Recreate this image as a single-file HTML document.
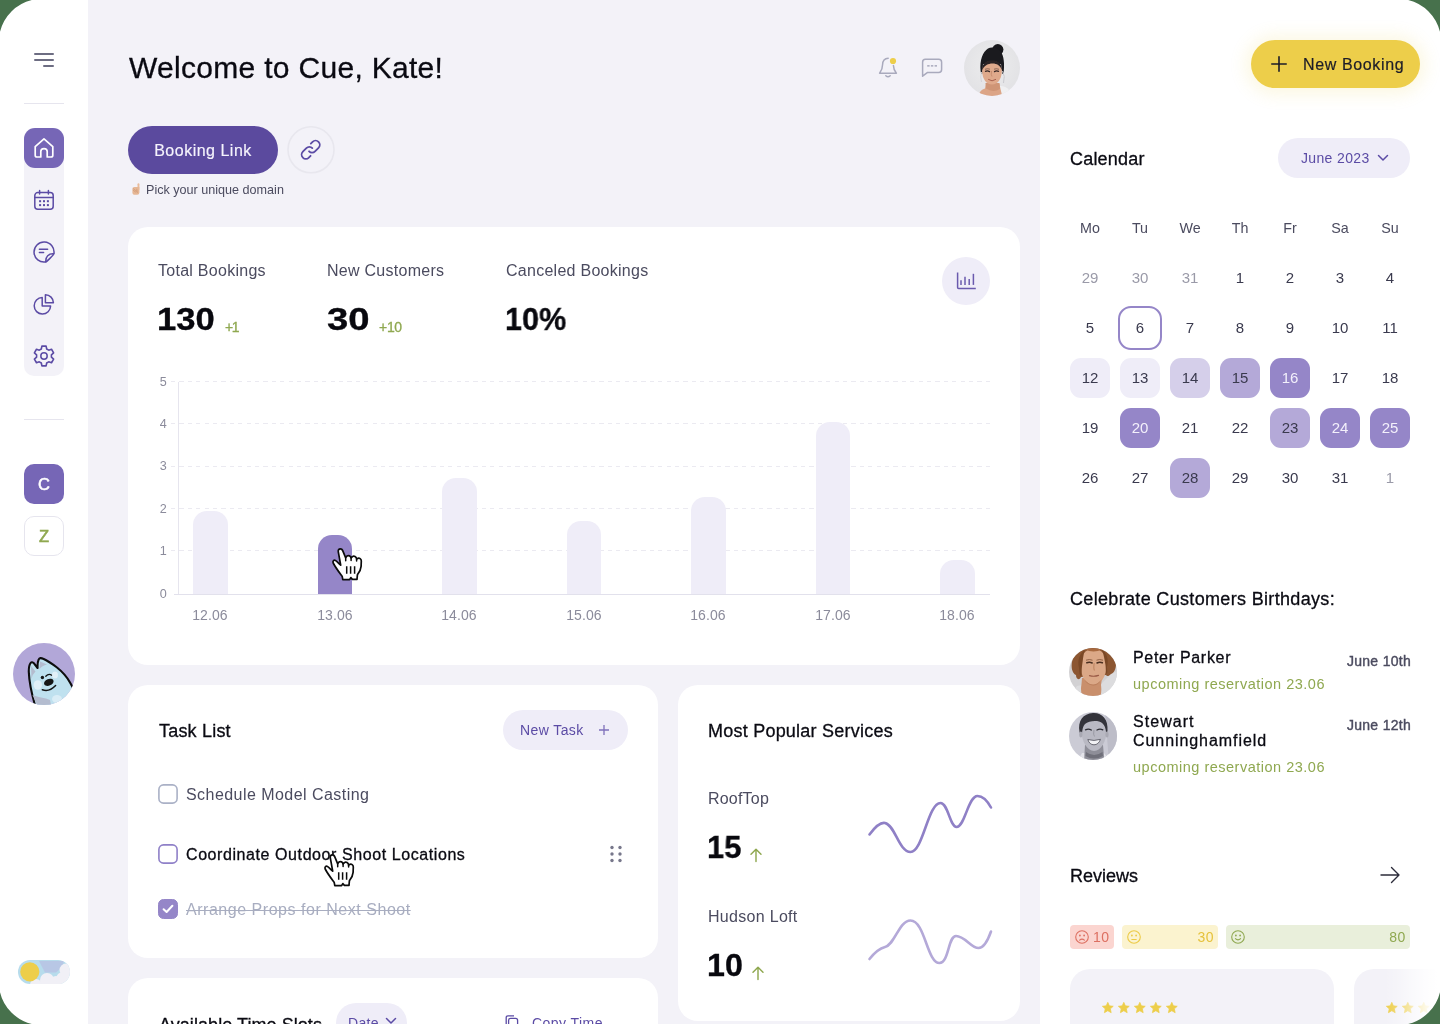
<!DOCTYPE html>
<html lang="en">
<head>
<meta charset="utf-8">
<title>Cue Dashboard</title>
<style>
*{box-sizing:border-box;margin:0;padding:0}
html,body{width:1440px;height:1024px;overflow:hidden}
body{background:#47714c;font-family:"Liberation Sans",sans-serif;color:#0c0c14;position:relative}
#app{position:absolute;left:0;top:0;width:1440px;height:1024px;overflow:hidden;background:#f3f2f8}
.abs{position:absolute}
.t{position:absolute;white-space:nowrap;will-change:transform}
.med{-webkit-text-stroke:0.3px currentColor}
.card{position:absolute;background:#fff;border-radius:20px}
svg{position:absolute;overflow:visible}
.ico{fill:none;stroke:#5b4ba5;stroke-width:1.5;stroke-linecap:round;stroke-linejoin:round}
.cal{will-change:transform;position:absolute;width:40px;height:40px;line-height:40px;text-align:center;font-size:15px;color:#3a3a4e;border-radius:11px}
.cal.g{color:#9a9aa8}
.cal.l1{background:#efedf8}
.cal.l2{background:#d5cfea}
.cal.l3{background:#b4a9d8}
.cal.l4{background:#9586c8;color:#f3f0fb}
.bar{position:absolute;width:34.5px;background:#efedf8;border-radius:14px 14px 0 0}
.grid{position:absolute;left:170.600px;width:819.400px;height:1px;background:repeating-linear-gradient(90deg,#ebeaf1 0 4.200px,transparent 4.200px 8.400px)}
.yl{will-change:transform;position:absolute;left:140px;width:26.800px;text-align:right;font-size:12.6px;color:#8b8b9b;line-height:16px}
.xl{will-change:transform;position:absolute;width:60px;text-align:center;font-size:14px;letter-spacing:.1px;color:#8b8b9b;line-height:18px;top:606.3px}
.cb{position:absolute;left:158px;width:20px;height:20px;border-radius:5.5px;border:1.5px solid #b3b8cc;background:#fff}
</style>
</head>
<body>
<div id="app">

<!-- ============ SIDEBAR ============ -->
<div class="abs" id="side" style="left:0;top:0;width:88px;height:1024px;background:#fff"></div>
<!-- hamburger -->
<div class="abs" style="left:34px;top:53.3px;width:20px;height:1.5px;background:#6d6d82;border-radius:1px"></div>
<div class="abs" style="left:34px;top:59.3px;width:20px;height:1.5px;background:#6d6d82;border-radius:1px"></div>
<div class="abs" style="left:43px;top:65.3px;width:11px;height:1.5px;background:#6d6d82;border-radius:1px"></div>
<div class="abs" style="left:24px;top:103px;width:40px;height:1px;background:#e6e5ee"></div>
<!-- nav pill -->
<div class="abs" style="left:24px;top:128px;width:40px;height:248px;background:#f3f2f8;border-radius:10px"></div>
<div class="abs" style="left:24px;top:128px;width:40px;height:40px;background:#7666b6;border-radius:11px"></div>
<!-- home -->
<svg style="left:32px;top:136px" width="24" height="24" viewBox="0 0 24 24"><path class="ico" style="stroke:#fff;stroke-width:1.7" d="M3.2 10.6 L12 2.8 L20.8 10.6 V19.2 Q20.8 21 19 21 H15.2 V15.6 Q15.2 12.6 12 12.6 Q8.8 12.6 8.8 15.6 V21 H5 Q3.2 21 3.2 19.2 Z"/></svg>
<!-- calendar -->
<svg style="left:32px;top:188px" width="24" height="24" viewBox="0 0 24 24"><rect class="ico" x="2.8" y="4.6" width="18.4" height="16.6" rx="3"/><path class="ico" d="M2.8 9.6H21.2M7.6 2.6V6M16.4 2.6V6"/><g fill="#5b4ba5"><rect x="7.1" y="12.2" width="2" height="2"/><rect x="11" y="12.2" width="2" height="2"/><rect x="14.9" y="12.2" width="2" height="2"/><rect x="7.1" y="16.1" width="2" height="2"/><rect x="11" y="16.1" width="2" height="2"/><rect x="14.9" y="16.1" width="2" height="2"/></g></svg>
<!-- sticker/message -->
<svg style="left:32px;top:240px" width="24" height="24" viewBox="0 0 24 24"><path class="ico" d="M21.9 13.7 A10 10 0 1 0 13.7 21.9 C14.8 21.7 21.700 14.8 21.9 13.7 Z"/><path class="ico" d="M13.8 21.8 C13.4 16.6 16.6 13.4 21.8 13.8"/><path class="ico" d="M7.4 9.2H15.6M7.4 12.6H11.6"/></svg>
<!-- pie -->
<svg style="left:32px;top:292px" width="24" height="24" viewBox="0 0 24 24"><path class="ico" d="M10.2 5.6 A8.2 8.2 0 1 0 18.6 14 H10.2 Z"/><path class="ico" d="M13.4 2.8 V10.8 H21.4 A8 8 0 0 0 13.4 2.8 Z"/></svg>
<!-- gear -->
<svg style="left:32px;top:344px" width="24" height="24" viewBox="0 0 24 24"><path class="ico" style="stroke-width:1.6" d="M9.31 5.00 L9.90 2.12 L14.10 2.12 L14.69 5.00 L16.72 6.17 L19.51 5.24 L21.61 8.88 L19.41 10.83 L19.41 13.17 L21.61 15.12 L19.51 18.76 L16.72 17.83 L14.69 19.00 L14.10 21.88 L9.90 21.88 L9.31 19.00 L7.28 17.83 L4.49 18.76 L2.39 15.12 L4.59 13.17 L4.59 10.83 L2.39 8.88 L4.49 5.24 L7.28 6.17 Z"/><circle class="ico" cx="12" cy="12" r="3.2"/></svg>

<div class="abs" style="left:24px;top:419px;width:40px;height:1px;background:#e6e5ee"></div>
<div class="abs" style="left:24px;top:464px;width:40px;height:40px;background:#7666b6;border-radius:10px;color:#fff;-webkit-text-stroke:.55px #fff;font-size:16.5px;line-height:41px;text-align:center;will-change:transform">C</div>
<div class="abs" style="left:24px;top:516px;width:40px;height:40px;background:#fff;border:1px solid #e6e5ee;border-radius:10px;color:#8fa850;-webkit-text-stroke:.55px #8fa850;font-size:16.5px;line-height:39px;text-align:center;will-change:transform">Z</div>

<!-- mascot -->
<svg style="left:13px;top:643px" width="62" height="62" viewBox="0 0 62 62">
<defs><clipPath id="mc"><circle cx="31" cy="31" r="31"/></clipPath></defs>
<circle cx="31" cy="31" r="31" fill="#b2a7d8"/>
<g clip-path="url(#mc)">
<path d="M22.500 64 C19 52 16.200 40 15.800 29 C15.700 25 16.500 21.500 17.600 20 C18.500 18.800 19.800 19 20.800 20.200 L24.600 25 C24.400 21.500 24.800 18.500 25.600 16.600 C26.400 14.800 28.200 14.800 30.200 15.800 C35 18 40 21.500 44 24.500 C49 28.500 54 34 57 39.500 L59.500 44 L64 64 Z" fill="#bfe1ef" stroke="#0d0d0d" stroke-width="2.100" stroke-linejoin="round"/>
<path d="M18 23 L22.500 28.500 Q19.500 31 18.500 36 Z" fill="#b4bccf"/>
<path d="M27 18.500 L34 21.500 Q29 22.500 26.500 26 Z" fill="#b4bccf"/>
<ellipse cx="35.800" cy="39.300" rx="5" ry="3.300" transform="rotate(-22 35.800 39.300)" fill="#161616"/>
<circle cx="29.400" cy="34.500" r="1.700" fill="#161616"/>
<path d="M32.800 33.200 Q35.600 30.200 38.800 32.200" fill="none" stroke="#161616" stroke-width="1.300" stroke-linecap="round"/>
<path d="M29.300 46.800 Q36 49.500 42.600 42.600" fill="none" stroke="#161616" stroke-width="1.500" stroke-linecap="round"/>
<ellipse cx="24.800" cy="42" rx="4.200" ry="4.800" fill="#e6f2f9" opacity=".85"/>
<ellipse cx="42" cy="32" rx="3" ry="3.600" fill="#e6f2f9" opacity=".85"/>
<path d="M19.500 52 Q26 54.500 33 55.500 L37 57 L38 62 L24 62 Z" fill="#b4bccf"/>
<ellipse cx="44" cy="56" rx="5" ry="4" fill="#e6f2f9" opacity=".7"/>
</g></svg>

<!-- toggle -->
<svg style="left:18px;top:960px" width="52" height="24" viewBox="0 0 52 24">
<defs><clipPath id="tg"><rect width="52" height="24" rx="12"/></clipPath></defs>
<rect width="52" height="24" rx="12" fill="#b7dcec"/>
<g clip-path="url(#tg)">
<path d="M21 1 H46 L44 7 L38 12.500 H27 Z" fill="#b9a9dc" opacity=".42"/>
<circle cx="48" cy="10" r="6.5" fill="#f1f0f6"/><circle cx="29" cy="20" r="7" fill="#f1f0f6"/><circle cx="38" cy="22" r="6" fill="#f1f0f6"/><circle cx="18" cy="25" r="6" fill="#f1f0f6"/><circle cx="45" cy="19" r="7" fill="#f1f0f6"/>
</g>
<circle cx="11.8" cy="11.8" r="9.6" fill="#edce4a"/>
</svg>

<!-- ============ HEADER ============ -->
<div class="t med" id="title" style="left:129px;top:48px;font-size:30px;line-height:40px;letter-spacing:0.3px;color:#0a0a12">Welcome to Cue, Kate!</div>

<div class="abs" style="left:128px;top:126px;width:150px;height:48px;border-radius:24px;background:#5b4a9e"></div>
<div class="t" id="bl" style="-webkit-text-stroke:.15px #f5f3fc;left:128px;top:127px;width:150px;text-align:center;letter-spacing:.5px;font-size:16px;line-height:48px;color:#f5f3fc">Booking Link</div>
<svg style="left:287px;top:126px" width="48" height="48"><circle cx="24" cy="23.800" r="23" fill="none" stroke="#e8e7ee" stroke-width="1.600"/></svg>
<svg style="left:299.300px;top:138.200px" width="23.400" height="23.400" viewBox="0 0 20 20"><g class="ico" style="stroke-width:1.550"><path d="M8.6 11.4 a3.6 3.6 0 0 0 5.1 0 l3 -3 a3.6 3.6 0 0 0 -5.1 -5.1 l-1.5 1.5"/><path d="M11.4 8.6 a3.6 3.6 0 0 0 -5.1 0 l-3 3 a3.6 3.6 0 0 0 5.1 5.1 l1.5 -1.5"/></g></svg>
<!-- pointing emoji -->
<svg style="left:132.100px;top:182.800px" width="8" height="12" viewBox="0 0 8 12"><rect x="5.500" y=".2" width="1.900" height="7" rx=".95" fill="#e9bb9a"/><path d="M.4 6 Q.4 3.900 2.500 3.900 H7.400 V9.600 Q7.400 11.800 5.200 11.800 H3 Q.4 11.800 .4 9.200 Z" fill="#e6b795"/><path d="M1.200 5.600 L4.600 8.200 M1.300 7.400 L3.600 9 M4.800 6.200 L5.300 9.600" stroke="#c9926f" stroke-width=".6" fill="none" stroke-linecap="round"/></svg>
<div class="t" id="pick" style="left:146px;top:182px;font-size:12.6px;line-height:16px;color:#4b4b5f">Pick your unique domain</div>

<!-- header right icons -->
<svg style="left:876px;top:55px" width="24" height="24" viewBox="0 0 24 24"><path d="M12.2 3.2 C8.6 3.2 6.6 6 6.6 9.6 C6.6 14 5 16.4 3.6 18.2 H20.4 C19 16.4 17.4 14.2 17.4 10.6" fill="none" stroke="#a9aabd" stroke-width="1.5" stroke-linecap="round" stroke-linejoin="round"/><path d="M9.8 20.8 Q12 22.8 14.2 20.8" fill="none" stroke="#a9aabd" stroke-width="1.5" stroke-linecap="round"/><circle cx="17" cy="6" r="3.1" fill="#edce4a"/></svg>
<svg style="left:920px;top:55px" width="24" height="24" viewBox="0 0 24 24"><path d="M5.4 4.2 H18.6 Q21.6 4.2 21.6 7.2 V14.4 Q21.6 17.4 18.6 17.4 H7.6 L2.6 21.2 V7.2 Q2.6 4.2 5.4 4.2 Z" fill="none" stroke="#a9aabd" stroke-width="1.5" stroke-linejoin="round"/><g fill="#a9aabd"><rect x="7.2" y="10.1" width="2.4" height="1.5"/><rect x="10.9" y="10.1" width="2.4" height="1.5"/><rect x="14.6" y="10.1" width="2.4" height="1.5"/></g></svg>

<!-- Kate avatar -->
<svg style="left:964px;top:40px" width="56" height="56" viewBox="0 0 56 56">
<defs><clipPath id="ka"><circle cx="28" cy="28" r="28"/></clipPath>
<radialGradient id="kg" cx="50%" cy="45%" r="60%"><stop offset="0" stop-color="#ededee"/><stop offset="1" stop-color="#e1e1e4"/></radialGradient></defs>
<circle cx="28" cy="28" r="28" fill="url(#kg)"/>
<g clip-path="url(#ka)">
<path d="M36 46 Q42 46 45 50 L46 58 L34 58 Z" fill="#f0f0f2"/>
<path d="M14 58 Q15 50 21 48.500 L22 44 L35.500 44 L36.500 49 Q38 54 38 58 Z" fill="#dca587"/>
<path d="M21.500 43 L35.500 43 L36 49 Q29 53 22 48.500 Z" fill="#cf9576"/>
<circle cx="33.800" cy="9.600" r="5.600" fill="#17171b"/>
<path d="M16.600 31 C15.500 20 19 11.500 24 8.500 C28 6.500 34 8 37 12 C40 16 40.500 24 39.800 31 C39.500 34 38.500 35 38 33 L37 24 L19 24 L18.500 33 C18 35 17 34 16.600 31 Z" fill="#1a1a1e"/>
<path d="M18.200 32 C18 25 21.500 21 28 21 C34.500 21 38 25 37.800 32 C37.500 39 33.500 44.500 28 44.500 C22.500 44.500 18.500 39 18.200 32 Z" fill="#dfa98b"/>
<path d="M18 30 C18.500 23 22 20.500 28 20.500 C34 20.500 37.500 23 38 30 C36 25.500 33 23.500 28.500 23.500 C24 23.500 20.500 25.500 18 30 Z" fill="#2a2224"/>
<path d="M38.500 31 Q41.500 36 39.500 43" fill="none" stroke="#c9c9cf" stroke-width="1"/>
<path d="M17.500 32 Q16 37 17.500 42" fill="none" stroke="#d3d3d8" stroke-width="1"/>
<path d="M21.500 31.300 Q23.500 30.300 25.500 31.600" fill="none" stroke="#3a2a28" stroke-width="1.300" stroke-linecap="round"/>
<path d="M30.500 31.600 Q32.500 30.300 34.500 31.300" fill="none" stroke="#3a2a28" stroke-width="1.300" stroke-linecap="round"/>
<path d="M21 29.300 Q23.500 28.200 26 29.200M30 29.200 Q32.500 28.200 35 29.300" fill="none" stroke="#6a4a40" stroke-width=".7"/>
<path d="M27.500 31 Q26.800 35 28 36.500" fill="none" stroke="#c48a6c" stroke-width=".9"/>
<path d="M24.200 39.300 Q28 42.300 32 39.300" fill="none" stroke="#a8604e" stroke-width="1"/>
</g></svg>

<!-- SECTIONS -->
<!-- ============ STATS CARD ============ -->
<div class="card" style="left:128px;top:227px;width:892px;height:438px"></div>
<div class="t" id="s1" style="letter-spacing:.27px;left:158px;top:261px;font-size:16px;line-height:20px;color:#4b4b5f">Total Bookings</div>
<div class="t" id="s2" style="letter-spacing:.27px;left:327px;top:261px;font-size:16px;line-height:20px;color:#4b4b5f">New Customers</div>
<div class="t" id="s3" style="letter-spacing:.27px;left:506px;top:261px;font-size:16px;line-height:20px;color:#4b4b5f">Canceled Bookings</div>
<div class="t" id="n1" style="left:157.400px;top:299.4px;transform-origin:0 50%;transform:scaleX(1.085);-webkit-text-stroke:.35px #08080e;font-size:31.9px;line-height:40px;font-weight:700;color:#08080e">130</div>
<div class="t" id="n2" style="left:326.600px;top:299.4px;transform-origin:0 50%;transform:scaleX(1.2);-webkit-text-stroke:.35px #08080e;font-size:31.9px;line-height:40px;font-weight:700;color:#08080e">30</div>
<div class="t" id="n3" style="left:505.300px;top:299.4px;transform-origin:0 50%;transform:scaleX(.96);-webkit-text-stroke:.35px #08080e;font-size:31.9px;line-height:40px;font-weight:700;color:#08080e">10%</div>
<div class="t med" id="d1" style="left:224.600px;top:319px;letter-spacing:-1.500px;font-size:14px;line-height:16px;color:#8fa850">+1</div>
<div class="t med" id="d2" style="left:378.800px;top:319px;letter-spacing:-.3px;font-size:14px;line-height:16px;color:#8fa850">+10</div>
<div class="abs" style="left:942px;top:257px;width:48px;height:48px;border-radius:50%;background:#efedf8"></div>
<svg style="left:956px;top:271px" width="20" height="20" viewBox="0 0 20 20"><g fill="none" stroke="#6a5aae" stroke-width="1.5" stroke-linecap="butt"><path d="M1.600 1.400 V16.500 Q1.600 17.500 2.600 17.500 H19.800"/><path d="M5 9.200 V13.900"/><path d="M9 5.700 V13.900"/><path d="M13.200 8 V13.900"/><path d="M17.400 2.800 V13.900"/></g></svg>

<!-- chart -->
<div class="grid" style="top:381px"></div>
<div class="grid" style="top:423px"></div>
<div class="grid" style="top:466px"></div>
<div class="grid" style="top:508px"></div>
<div class="grid" style="top:550px"></div>
<div class="abs" style="left:178px;top:382px;width:1px;height:212px;background:#e6e5ee"></div>
<div class="abs" style="left:174px;top:594px;width:816px;height:1px;background:#e2e1ec"></div>
<div class="yl" style="top:374px">5</div>
<div class="yl" style="top:416.2px">4</div>
<div class="yl" style="top:458.4px">3</div>
<div class="yl" style="top:500.6px">2</div>
<div class="yl" style="top:542.9px">1</div>
<div class="yl" style="top:585.5px">0</div>
<div class="bar" style="left:193.2px;top:511px;height:83px"></div>
<div class="bar" style="left:317.7px;top:535px;height:59px;background:#9586c8"></div>
<div class="bar" style="left:442.2px;top:478px;height:116px"></div>
<div class="bar" style="left:566.8px;top:521px;height:73px"></div>
<div class="bar" style="left:691.3px;top:497px;height:97px"></div>
<div class="bar" style="left:815.8px;top:422px;height:172px"></div>
<div class="bar" style="left:940.3px;top:560px;height:34px"></div>
<div class="xl" style="left:180px">12.06</div>
<div class="xl" style="left:304.500px">13.06</div>
<div class="xl" style="left:429px">14.06</div>
<div class="xl" style="left:553.500px">15.06</div>
<div class="xl" style="left:678px">16.06</div>
<div class="xl" style="left:802.500px">17.06</div>
<div class="xl" style="left:927px">18.06</div>

<!-- ============ TASK LIST ============ -->
<div class="card" style="left:128px;top:685px;width:530px;height:273px"></div>
<div class="t med" id="tl" style="left:158.6px;top:719.2px;letter-spacing:.2px;font-size:18px;line-height:24px;color:#0a0a12">Task List</div>
<div class="abs" style="left:503px;top:710px;width:125px;height:40px;border-radius:20px;background:#efedf8"></div>
<div class="t" id="nt" style="left:519.5px;top:720px;letter-spacing:.4px;font-size:14px;line-height:20px;color:#5b4ba5">New Task</div>
<svg style="left:599px;top:725px" width="10" height="10" viewBox="0 0 10 10"><path d="M5 0V10M0 5H10" stroke="#7f70bb" stroke-width="1.300" fill="none"/></svg>

<svg style="left:158px;top:784px" width="20" height="20"><rect x=".9" y=".9" width="18.2" height="18.2" rx="4.6" fill="#fff" stroke="#aab1c6" stroke-width="1.6"/></svg>
<div class="t" id="t1" style="left:185.7px;top:785.3px;letter-spacing:.45px;font-size:16px;line-height:20px;color:#4b4b5f">Schedule Model Casting</div>
<svg style="left:158px;top:844px" width="20" height="20"><rect x=".9" y=".9" width="18.2" height="18.2" rx="4.6" fill="#fff" stroke="#8f80c8" stroke-width="1.6"/></svg>
<div class="t med" id="t2" style="left:185.9px;top:845.3px;letter-spacing:.58px;font-size:16px;line-height:20px;color:#0a0a12">Coordinate Outdoor Shoot Locations</div>
<svg style="left:609px;top:845px" width="14" height="18" viewBox="0 0 14 18"><g fill="#77778b"><circle cx="3" cy="2.500" r="1.700"/><circle cx="11" cy="2.500" r="1.700"/><circle cx="3" cy="9" r="1.700"/><circle cx="11" cy="9" r="1.700"/><circle cx="3" cy="15.500" r="1.700"/><circle cx="11" cy="15.500" r="1.700"/></g></svg>
<div class="cb" style="top:899px;background:#9586c8;border-color:#9586c8"></div>
<svg style="left:162px;top:904px" width="12" height="10" viewBox="0 0 12 10"><path d="M1.600 5.200 L4.600 8 L10.400 1.800" fill="none" stroke="#fff" stroke-width="2" stroke-linecap="round" stroke-linejoin="round"/></svg>
<div class="t" id="t3" style="left:185.9px;top:900.1px;letter-spacing:.53px;font-size:16px;line-height:20px;color:#a8adc0;text-decoration:line-through">Arrange Props for Next Shoot</div>

<!-- ============ TIME SLOTS (cut off) ============ -->
<div class="card" style="left:128px;top:978px;width:530px;height:120px"></div>
<div class="t med" id="ats" style="left:159px;top:1012.6px;letter-spacing:.06px;font-size:18px;line-height:24px;color:#0a0a12">Available Time Slots</div>
<div class="abs" style="left:336px;top:1003px;width:71px;height:40px;border-radius:20px;background:#efedf8"></div>
<div class="t" id="dt" style="left:348.3px;top:1013px;font-size:14px;letter-spacing:.3px;line-height:20px;color:#5b4ba5">Date</div>
<svg style="left:385px;top:1017px" width="12" height="8" viewBox="0 0 12 8"><path d="M1.500 1.500 L6 6 L10.500 1.500" fill="none" stroke="#5b4ba5" stroke-width="1.500" stroke-linecap="round" stroke-linejoin="round"/></svg>
<svg style="left:503px;top:1014px" width="16" height="16" viewBox="0 0 16 16"><g fill="none" stroke="#5b4ba5" stroke-width="1.300"><path d="M3.200 10.500 V3.500 Q3.200 1.800 5 1.800 H11"/><rect x="5.600" y="4.400" width="9" height="10" rx="2"/></g></svg>
<div class="t" id="ct" style="left:531.5px;top:1013px;font-size:14px;letter-spacing:.45px;line-height:20px;color:#5b4ba5">Copy Time</div>

<!-- ============ SERVICES ============ -->
<div class="card" style="left:678px;top:685px;width:342px;height:336px"></div>
<div class="t med" id="mps" style="left:707.6px;top:718.7px;letter-spacing:.23px;font-size:18px;line-height:24px;color:#0a0a12">Most Popular Services</div>
<div class="t" id="rt" style="left:708px;top:789.1px;letter-spacing:.2px;font-size:16px;line-height:20px;color:#4b4b5f">RoofTop</div>
<div class="t" id="v15" style="left:707.300px;top:827.2px;transform-origin:0 50%;transform:scaleX(.97);-webkit-text-stroke:.35px #08080e;font-size:31.9px;line-height:40px;font-weight:700;color:#08080e">15</div>
<svg style="left:750.2px;top:848px" width="12" height="14" viewBox="0 0 12 14"><path d="M6 13.600V1.400M1 6.300 L6 1.300 L11 6.300" fill="none" stroke="#8fa850" stroke-width="1.450" stroke-linecap="round" stroke-linejoin="round"/></svg>
<div class="t" id="hl" style="left:708px;top:907.1px;letter-spacing:.3px;font-size:16px;line-height:20px;color:#4b4b5f">Hudson Loft</div>
<div class="t" id="v10" style="left:707.300px;top:945.2px;transform-origin:0 50%;transform:scaleX(1.01);-webkit-text-stroke:.35px #08080e;font-size:31.9px;line-height:40px;font-weight:700;color:#08080e">10</div>
<svg style="left:752px;top:966px" width="12" height="14" viewBox="0 0 12 14"><path d="M6 13.600V1.400M1 6.300 L6 1.300 L11 6.300" fill="none" stroke="#8fa850" stroke-width="1.450" stroke-linecap="round" stroke-linejoin="round"/></svg>
<svg style="left:0;top:0" width="1440" height="1024" viewBox="0 0 1440 1024">
<path d="M869.500 834.500 C875 827 880 822 885 823 C895 825 899 852 910.500 852 C923 852 928 803 940.500 803 C948 803 950 827 956.500 827 C965 827 968 796 977.500 796 C983 796 988 802 991 807.500" fill="none" stroke="#8f80c6" stroke-width="2.600" stroke-linecap="round"/>
<path d="M869.500 959 C875 952 879 948.500 885 947 C895 944.500 899 920.500 910.500 920.500 C925 920.500 927 963 939.500 963 C949 963 948 936 956 936 C965 936 971 948 978.500 948 C984 948 988 940 991 931.500" fill="none" stroke="#b4a9d8" stroke-width="2.600" stroke-linecap="round"/>
</svg>

<!-- ============ RIGHT PANEL ============ -->
<div class="abs" style="left:1040px;top:0;width:400px;height:1024px;background:#fff"></div>
<div class="abs" style="left:1251px;top:40px;width:169px;height:48px;border-radius:24px;background:#edce4a;box-shadow:0 1px 16px 6px rgba(237,206,74,.15)"></div>
<svg style="left:1271px;top:56px" width="16" height="16" viewBox="0 0 16 16"><path d="M8 0.8V15.2M0.8 8H15.2" stroke="#1c1c28" stroke-width="1.6" stroke-linecap="round" fill="none"/></svg>
<div class="t" id="nb" style="-webkit-text-stroke:.2px #1c1c28;left:1302.7px;top:53.2px;letter-spacing:.63px;font-size:16px;line-height:24px;color:#1c1c28">New Booking</div>
<div class="t med" id="calh" style="left:1070px;top:146.5px;letter-spacing:.2px;font-size:18px;line-height:24px;color:#0a0a12">Calendar</div>
<div class="abs" style="left:1278px;top:138px;width:132px;height:40px;border-radius:20px;background:#efedf8"></div>
<div class="t" id="jn" style="left:1301.3px;top:148px;font-size:14px;letter-spacing:.35px;line-height:20px;color:#5b4ba5">June 2023</div>
<svg style="left:1376.8px;top:154.2px" width="12" height="8" viewBox="0 0 12 8"><path d="M1.5 1.5 L6 6 L10.5 1.5" fill="none" stroke="#5b4ba5" stroke-width="1.5" stroke-linecap="round" stroke-linejoin="round"/></svg>
<div class="cal" style="left:1070px;top:208px;color:#4b4b5f;font-size:14.3px">Mo</div>
<div class="cal" style="left:1120px;top:208px;color:#4b4b5f;font-size:14.3px">Tu</div>
<div class="cal" style="left:1170px;top:208px;color:#4b4b5f;font-size:14.3px">We</div>
<div class="cal" style="left:1220px;top:208px;color:#4b4b5f;font-size:14.3px">Th</div>
<div class="cal" style="left:1270px;top:208px;color:#4b4b5f;font-size:14.3px">Fr</div>
<div class="cal" style="left:1320px;top:208px;color:#4b4b5f;font-size:14.3px">Sa</div>
<div class="cal" style="left:1370px;top:208px;color:#4b4b5f;font-size:14.3px">Su</div>
<div class="cal g" style="left:1070px;top:258px">29</div>
<div class="cal g" style="left:1120px;top:258px">30</div>
<div class="cal g" style="left:1170px;top:258px">31</div>
<div class="cal " style="left:1220px;top:258px">1</div>
<div class="cal " style="left:1270px;top:258px">2</div>
<div class="cal " style="left:1320px;top:258px">3</div>
<div class="cal " style="left:1370px;top:258px">4</div>
<div class="cal " style="left:1070px;top:308px">5</div>
<div class="abs" style="left:1118px;top:306px;width:44px;height:44px;border:2px solid #9586c8;border-radius:13px"></div>
<div class="cal " style="left:1120px;top:308px">6</div>
<div class="cal " style="left:1170px;top:308px">7</div>
<div class="cal " style="left:1220px;top:308px">8</div>
<div class="cal " style="left:1270px;top:308px">9</div>
<div class="cal " style="left:1320px;top:308px">10</div>
<div class="cal " style="left:1370px;top:308px">11</div>
<div class="cal l1" style="left:1070px;top:358px">12</div>
<div class="cal l1" style="left:1120px;top:358px">13</div>
<div class="cal l2" style="left:1170px;top:358px">14</div>
<div class="cal l3" style="left:1220px;top:358px">15</div>
<div class="cal l4" style="left:1270px;top:358px">16</div>
<div class="cal " style="left:1320px;top:358px">17</div>
<div class="cal " style="left:1370px;top:358px">18</div>
<div class="cal " style="left:1070px;top:408px">19</div>
<div class="cal l4" style="left:1120px;top:408px">20</div>
<div class="cal " style="left:1170px;top:408px">21</div>
<div class="cal " style="left:1220px;top:408px">22</div>
<div class="cal l3" style="left:1270px;top:408px">23</div>
<div class="cal l4" style="left:1320px;top:408px">24</div>
<div class="cal l4" style="left:1370px;top:408px">25</div>
<div class="cal " style="left:1070px;top:458px">26</div>
<div class="cal " style="left:1120px;top:458px">27</div>
<div class="cal l3" style="left:1170px;top:458px">28</div>
<div class="cal " style="left:1220px;top:458px">29</div>
<div class="cal " style="left:1270px;top:458px">30</div>
<div class="cal " style="left:1320px;top:458px">31</div>
<div class="cal g" style="left:1370px;top:458px">1</div>
<div class="t med" id="bd" style="left:1070px;top:586.5px;letter-spacing:.33px;font-size:18px;line-height:24px;color:#0a0a12">Celebrate Customers Birthdays:</div>
<svg style="left:1069px;top:648px" width="48" height="48" viewBox="0 0 48 48"><defs><clipPath id="a1"><circle cx="24" cy="24" r="24"/></clipPath></defs><circle cx="24" cy="24" r="24" fill="#d2d1d3"/><g clip-path="url(#a1)">
<path d="M-2 50 L8 38 L18 36 L32 36 L42 26 L50 22 L50 50 Z" fill="#dcdcde"/>
<path d="M3 14 C5 4 14 -1 24 -1 C36 -1 45 5 47 16 C47 21 45 25 42 26 C40 28 38 29 37 27 L12 29 C10 33 7 31 7 27 C3 25 2 19 3 14 Z" fill="#8c5631"/>
<path d="M12.500 36 L13 30 L33 30 L32 37 Q33 44 31 50 L14 50 Q11 44 12.500 36 Z" fill="#c98f6c"/>
<path d="M11.500 17 C11.500 7 16 1 24.500 1 C33 1 37.500 7 37.500 17 C37.500 28 32 37 24.500 37 C17 37 11.500 28 11.500 17 Z" fill="#dba887"/>
<path d="M10 20 C8 12 11 5 16 2 C14 7 14 12 13 18 C12.500 22 13 25 12 28 C10 27 10.500 23 10 20 Z" fill="#7a4826"/>
<path d="M38 19 C40 12 38 5 33 2 C35 7 35.500 12 36.500 17 C37 21 36.500 24 37.500 26 C39 25 38 22 38 19 Z" fill="#7a4826"/>
<path d="M16 1.500 Q24.500 -1 33 1.500 Q29 3.500 24.500 3.500 Q20 3.500 16 1.500 Z" fill="#a8693f"/>
<path d="M17.800 14.800 Q20.500 13.500 23.200 15" fill="none" stroke="#4a2f20" stroke-width="1.500" stroke-linecap="round"/>
<path d="M28 15 Q30.700 13.500 33.400 14.800" fill="none" stroke="#4a2f20" stroke-width="1.500" stroke-linecap="round"/>
<path d="M17 12.200 Q20.500 10.800 23.500 12.200M27.500 12.200 Q30.500 10.800 34 12.200" fill="none" stroke="#8a5a3e" stroke-width=".9"/>
<path d="M25.200 15 Q24.300 20.500 25.500 22.500" fill="none" stroke="#c08763" stroke-width="1.100"/>
<path d="M20.500 27.600 Q25 29 29.500 27.400" fill="none" stroke="#9a5a46" stroke-width="1.200" stroke-linecap="round"/>
<path d="M15 31 Q24 42 33 31 Q30 37 24.500 37.500 Q18 37 15 31 Z" fill="#b97d5a"/>
</g></svg>
<svg style="left:1069px;top:712px" width="48" height="48" viewBox="0 0 48 48"><defs><clipPath id="a2"><circle cx="24" cy="24" r="24"/></clipPath></defs><circle cx="24" cy="24" r="24" fill="#cbcbd5"/><g clip-path="url(#a2)">
<path d="M36 0 L50 0 L50 50 L40 50 Z" fill="#bdbdc8"/>
<path d="M8 50 L13 41 L35 41 L42 50 Z" fill="#e4e4ea"/>
<path d="M15 50 L16 33 L34 33 L35.500 50 Z" fill="#8e8e98"/>
<path d="M17 40 Q25 46 33.500 40 L34 44 Q25 49 16.500 44 Z" fill="#6f6f79"/>
<path d="M12.500 19 C12.500 9 17 4 25 4 C33 4 37.500 9 37.500 19 C37.500 29 32 39 25 39 C18 39 12.500 29 12.500 19 Z" fill="#b9b9c3"/>
<path d="M10.500 20 C8.500 9 14 1.500 24 1 C33 0.500 39.500 7 38.500 19 C38 21 37.500 22 37 20 C36.500 14 34 10.500 30 9.500 C25 8.500 19 9.500 16 12 C14 14 13.500 17 13 21 C12.500 23 11 22 10.500 20 Z" fill="#34343b"/>
<path d="M16.500 17.800 Q19.500 16.400 22.300 18" fill="none" stroke="#2e2e35" stroke-width="1.400" stroke-linecap="round"/>
<path d="M28 18 Q30.800 16.400 33.800 17.800" fill="none" stroke="#2e2e35" stroke-width="1.400" stroke-linecap="round"/>
<path d="M25 18 Q24 23 25.500 24.500" fill="none" stroke="#9a9aa4" stroke-width="1"/>
<path d="M18.800 27.500 Q25 29.500 31.500 27.300 Q29.500 32.800 25 32.800 Q20.500 32.800 18.800 27.500 Z" fill="#f2f2f5" stroke="#5c5c66" stroke-width=".9"/>
<ellipse cx="11.800" cy="22.500" rx="1.600" ry="3" fill="#a9a9b3"/><ellipse cx="38" cy="22.500" rx="1.600" ry="3" fill="#a9a9b3"/>
</g></svg>
<div class="t med" id="pp" style="left:1133px;top:648.2px;font-size:16px;line-height:20px;letter-spacing:.7px;color:#0a0a12">Peter Parker</div>
<div class="t" id="u1" style="left:1133px;top:674px;font-size:14.5px;line-height:20px;letter-spacing:.5px;color:#8fa850">upcoming reservation 23.06</div>
<div class="t" id="j10" style="left:1310px;top:651px;width:101.1px;text-align:right;font-size:14px;line-height:20px;letter-spacing:.3px;-webkit-text-stroke:.4px #4b4b5f;color:#4b4b5f">June 10th</div>
<div class="t med" id="sc" style="left:1133px;top:712.4px;font-size:16px;line-height:20px;letter-spacing:1.05px;color:#0a0a12">Stewart</div>
<div class="t med" id="sc2" style="left:1133px;top:730.9px;font-size:16px;line-height:20px;letter-spacing:.93px;color:#0a0a12">Cunninghamfield</div>
<div class="t" id="u2" style="left:1133px;top:757px;font-size:14.5px;line-height:20px;letter-spacing:.5px;color:#8fa850">upcoming reservation 23.06</div>
<div class="t" id="j12" style="left:1310px;top:715px;width:101.1px;text-align:right;font-size:14px;line-height:20px;letter-spacing:.3px;-webkit-text-stroke:.4px #4b4b5f;color:#4b4b5f">June 12th</div>
<div class="t med" id="rv" style="left:1070px;top:864.2px;font-size:18px;line-height:24px;color:#0a0a12">Reviews</div>
<svg style="left:1380px;top:866px" width="20" height="18" viewBox="0 0 20 18"><path d="M1 9 H19 M11.5 1.5 L19 9 L11.5 16.5" fill="none" stroke="#2c2c3a" stroke-width="1.4" stroke-linecap="round" stroke-linejoin="round"/></svg>
<div class="abs" style="left:1070px;top:925px;width:44px;height:24px;border-radius:4px;background:#fbd5d0"></div>
<svg style="left:1075px;top:930px" width="14" height="14" viewBox="0 0 14 14"><g fill="none" stroke="#dd7062" stroke-width="1.1" stroke-linecap="round"><circle cx="7" cy="7" r="6.3"/><path d="M4.6 10.2 Q7 8 9.4 10.2"/></g><circle cx="4.9" cy="5.5" r=".9" fill="#dd7062"/><circle cx="9.1" cy="5.5" r=".9" fill="#dd7062"/></svg>
<div class="t" id="r10" style="left:1070px;top:927px;width:39.5px;text-align:right;letter-spacing:.5px;font-size:14px;line-height:20px;color:#dd7062">10</div>
<div class="abs" style="left:1122px;top:925px;width:96px;height:24px;border-radius:4px;background:#fbf3cf"></div>
<svg style="left:1127px;top:930px" width="14" height="14" viewBox="0 0 14 14"><g fill="none" stroke="#ecca45" stroke-width="1.1" stroke-linecap="round"><circle cx="7" cy="7" r="6.3"/><path d="M4.8 9.5 H9.2"/></g><circle cx="4.9" cy="5.5" r=".9" fill="#ecca45"/><circle cx="9.1" cy="5.5" r=".9" fill="#ecca45"/></svg>
<div class="t" id="r30" style="left:1122px;top:927px;width:92.1px;text-align:right;letter-spacing:.5px;font-size:14px;line-height:20px;color:#e6c23c">30</div>
<div class="abs" style="left:1226px;top:925px;width:184px;height:24px;border-radius:4px;background:#e9efdb"></div>
<svg style="left:1231px;top:930px" width="14" height="14" viewBox="0 0 14 14"><g fill="none" stroke="#8fa850" stroke-width="1.1" stroke-linecap="round"><circle cx="7" cy="7" r="6.3"/><path d="M4.4 8.6 Q7 11.2 9.6 8.6"/></g><circle cx="4.9" cy="5.5" r=".9" fill="#8fa850"/><circle cx="9.1" cy="5.5" r=".9" fill="#8fa850"/></svg>
<div class="t" id="r80" style="left:1226px;top:927px;width:179.8px;text-align:right;letter-spacing:.5px;font-size:14px;line-height:20px;color:#8fa850">80</div>
<div class="abs" style="left:1070px;top:969px;width:264px;height:120px;border-radius:20px;background:#f3f2f8"></div>
<div class="abs" style="left:1354px;top:969px;width:264px;height:120px;border-radius:20px;background:#f3f2f8"></div>
<svg style="left:1102.2px;top:1001.700px" width="11.600" height="11.600" viewBox="0 0 13 13"><path d="M6.5 0.4 L8.3 4.3 L12.6 4.8 L9.4 7.7 L10.3 12 L6.5 9.8 L2.7 12 L3.6 7.7 L0.4 4.8 L4.7 4.3 Z" fill="#edce4a" stroke="#edce4a" stroke-width=".8" stroke-linejoin="round"/></svg>
<svg style="left:1118.2px;top:1001.700px" width="11.600" height="11.600" viewBox="0 0 13 13"><path d="M6.5 0.4 L8.3 4.3 L12.6 4.8 L9.4 7.7 L10.3 12 L6.5 9.8 L2.7 12 L3.6 7.7 L0.4 4.8 L4.7 4.3 Z" fill="#edce4a" stroke="#edce4a" stroke-width=".8" stroke-linejoin="round"/></svg>
<svg style="left:1134.2px;top:1001.700px" width="11.600" height="11.600" viewBox="0 0 13 13"><path d="M6.5 0.4 L8.3 4.3 L12.6 4.8 L9.4 7.7 L10.3 12 L6.5 9.8 L2.7 12 L3.6 7.7 L0.4 4.8 L4.7 4.3 Z" fill="#edce4a" stroke="#edce4a" stroke-width=".8" stroke-linejoin="round"/></svg>
<svg style="left:1150.2px;top:1001.700px" width="11.600" height="11.600" viewBox="0 0 13 13"><path d="M6.5 0.4 L8.3 4.3 L12.6 4.8 L9.4 7.7 L10.3 12 L6.5 9.8 L2.7 12 L3.6 7.7 L0.4 4.8 L4.7 4.3 Z" fill="#edce4a" stroke="#edce4a" stroke-width=".8" stroke-linejoin="round"/></svg>
<svg style="left:1166.2px;top:1001.700px" width="11.600" height="11.600" viewBox="0 0 13 13"><path d="M6.5 0.4 L8.3 4.3 L12.6 4.8 L9.4 7.7 L10.3 12 L6.5 9.8 L2.7 12 L3.6 7.7 L0.4 4.8 L4.7 4.3 Z" fill="#edce4a" stroke="#edce4a" stroke-width=".8" stroke-linejoin="round"/></svg>
<svg style="left:1385.7px;top:1001.700px" width="11.600" height="11.600" viewBox="0 0 13 13"><path d="M6.5 0.4 L8.3 4.3 L12.6 4.8 L9.4 7.7 L10.3 12 L6.5 9.8 L2.7 12 L3.6 7.7 L0.4 4.8 L4.7 4.3 Z" fill="#edce4a" stroke="#edce4a" stroke-width=".8" stroke-linejoin="round"/></svg>
<svg style="left:1401.7px;top:1001.700px" width="11.600" height="11.600" viewBox="0 0 13 13"><path d="M6.5 0.4 L8.3 4.3 L12.6 4.8 L9.4 7.7 L10.3 12 L6.5 9.8 L2.7 12 L3.6 7.7 L0.4 4.8 L4.7 4.3 Z" fill="#edce4a" stroke="#edce4a" stroke-width=".8" stroke-linejoin="round"/></svg>
<svg style="left:1417.7px;top:1001.700px" width="11.600" height="11.600" viewBox="0 0 13 13"><path d="M6.5 0.4 L8.3 4.3 L12.6 4.8 L9.4 7.7 L10.3 12 L6.5 9.8 L2.7 12 L3.6 7.7 L0.4 4.8 L4.7 4.3 Z" fill="#edce4a" stroke="#edce4a" stroke-width=".8" stroke-linejoin="round"/></svg>
<div class="abs" style="left:1384px;top:960px;width:56px;height:64px;background:linear-gradient(90deg,rgba(255,255,255,0) 0%,rgba(255,255,255,.18) 22%,rgba(255,255,255,.55) 48%,rgba(255,255,255,.85) 74%,#fff 96%)"></div>
<!-- ============ CURSORS ============ -->
<svg style="left:332px;top:548px" width="30" height="33" viewBox="0 0 30 33"><defs><g id="hand"><path d="M8.400 0.800 C6.600 0.800 6 2.200 6.300 3.800 L8.700 17.200 C7 15.600 5 13.400 3.400 12.400 C1.800 11.600 0.400 13.400 1.200 15 C3.400 19.400 7.400 24.600 10.200 28.400 L10.800 31.600 L17.600 31.600 L18.800 29.600 L20.400 31.400 L25 31.300 L25.400 26.800 C27.400 24.200 28.900 21.600 29.100 18.400 L29.300 13 C29.300 10.800 27.400 9.800 25.800 10.400 L24.600 11 C24.400 8.600 22 7.600 20.400 8.600 L19.100 10 C18.600 7.800 16.600 7.200 15 8 L13.600 9.600 L10.900 3.200 C10.500 1.600 9.600 0.800 8.400 0.800 Z" fill="#fff" stroke="#0b0b0b" stroke-width="1.700" stroke-linejoin="round"/><path d="M14.700 18.200V25.800M18.600 18.200V25.800M22.600 18.200V25.800" stroke="#0b0b0b" stroke-width="1.500" fill="none"/><path d="M13.700 9.600V12.800M19.100 10V12.600M24.600 11V13" stroke="#0b0b0b" stroke-width="1.500" stroke-linecap="round" fill="none"/></g></defs><use href="#hand"/></svg>
<svg style="left:324px;top:854px" width="30" height="33" viewBox="0 0 30 33"><use href="#hand"/></svg>


<!-- ============ FRAME CORNERS ============ -->
<svg style="left:0;top:0" width="1440" height="1024" viewBox="0 0 1440 1024"><defs><path id="cn" d="M0 0 H31.800 A43.300 43.300 0 0 0 0 31.800 Z" fill="#47714c"/></defs>
<use href="#cn"/><use href="#cn" transform="translate(1440 0) scale(-1 1)"/><use href="#cn" transform="translate(0 1024) scale(1 -1)"/><use href="#cn" transform="translate(1440 1024) scale(-1 -1)"/></svg>

</div>
</body>
</html>
